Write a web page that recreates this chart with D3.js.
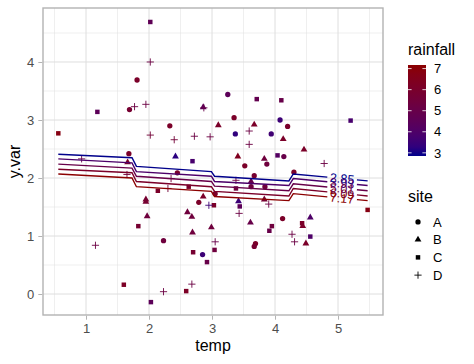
<!DOCTYPE html>
<html>
<head>
<meta charset="utf-8">
<script src="https://cdn.jsdelivr.net/npm/d3@7"></script>
<style>
  body { margin: 0; background: #fff; }
  text { font-family: "Liberation Sans", Arial, sans-serif; }
</style>
</head>
<body>
<script>
var temp = [2.02, 2.02, 1.81, 1.18, 1.69, 1.77, 1.95, 2.86, 2.87, 0.56,
            2.33, 2.02, 2.40, 2.72, 2.97, 3.10, 1.68, 2.42, 0.93, 3.25,
            3.71, 4.10, 3.35, 3.67, 4.08, 4.20, 5.20, 3.37, 3.59, 3.59,
            3.94, 4.13, 4.46, 3.41, 4.04, 4.14, 2.69, 1.66, 2.45, 1.65,
            2.35, 2.30, 2.63, 2.14, 2.86, 2.79, 3.03, 3.05, 2.95, 1.95,
            1.95, 1.97, 2.61, 2.68, 2.69, 2.99, 1.83, 2.23, 1.15, 3.05,
            2.70, 3.04, 2.85, 2.92, 1.60, 2.68, 2.23, 2.59, 2.03, 3.83,
            3.87, 3.52, 4.78, 3.67, 3.38, 3.62, 3.62, 3.84, 3.38, 4.30,
            3.83, 3.42, 3.44, 3.90, 3.43, 4.12, 4.56, 4.43, 4.44, 3.61,
            3.95, 3.91, 4.27, 4.56, 4.31, 4.49, 3.69, 3.67, 5.47];
var yvar = [4.69, 4.00, 3.69, 3.14, 3.18, 3.23, 3.27, 3.22, 3.21, 2.77,
            2.90, 2.74, 2.66, 2.72, 2.71, 2.91, 2.42, 2.37, 2.33, 3.44,
            3.36, 3.34, 3.04, 2.92, 3.00, 2.89, 2.99, 2.76, 2.81, 2.58,
            2.76, 2.67, 2.49, 2.37, 2.39, 2.37, 2.29, 2.27, 2.09, 2.06,
            1.99, 1.82, 1.85, 1.78, 1.68, 1.58, 1.53, 1.73, 1.53, 1.63,
            1.59, 1.34, 1.41, 1.33, 1.06, 1.15, 1.17, 0.92, 0.84, 0.90,
            0.72, 0.76, 0.68, 0.55, 0.16, 0.17, 0.04, 0.05, -0.14, 2.33,
            2.24, 2.21, 2.25, 2.04, 1.96, 1.94, 1.85, 1.85, 1.82, 2.10,
            1.63, 1.60, 1.51, 1.55, 1.39, 1.30, 1.32, 1.22, 1.17, 1.23,
            1.17, 1.09, 1.03, 0.99, 0.90, 0.87, 0.87, 0.82, 1.45];
var site = ["C", "D", "A", "C", "A", "D", "D", "B", "D", "C",
            "A", "D", "D", "D", "D", "B", "A", "B", "D", "A",
            "C", "C", "A", "B", "A", "A", "C", "A", "D", "D",
            "A", "B", "B", "B", "C", "A", "C", "B", "A", "D",
            "D", "D", "C", "C", "B", "A", "C", "A", "D", "B",
            "B", "B", "B", "B", "B", "B", "C", "A", "D", "D",
            "C", "C", "A", "C", "C", "D", "D", "C", "C", "B",
            "A", "A", "D", "A", "D", "B", "A", "A", "C", "A",
            "B", "B", "C", "D", "D", "A", "B", "C", "B", "B",
            "C", "C", "D", "C", "D", "B", "A", "A", "C"];
var rain = [4.6, 5.2, 6.1, 4.5, 5.8, 5.2, 5.2, 4.5, 5.0, 6.8,
            6.1, 5.6, 5.6, 5.2, 5.2, 6.1, 6.1, 3.2, 5.0, 4.5,
            4.8, 5.0, 6.1, 6.1, 3.5, 6.0, 3.8, 3.3, 5.2, 5.2,
            3.6, 6.1, 6.1, 6.4, 4.2, 5.0, 3.8, 6.1, 6.0, 5.6,
            5.6, 5.6, 6.0, 6.1, 6.1, 6.1, 6.1, 6.1, 3.5, 5.8,
            5.8, 5.4, 5.4, 5.4, 5.4, 5.4, 5.8, 5.4, 5.2, 5.0,
            5.8, 5.4, 3.5, 5.0, 6.2, 5.2, 5.2, 6.2, 4.5, 5.4,
            5.4, 6.1, 5.2, 5.8, 5.2, 5.0, 5.4, 5.4, 5.4, 6.1,
            5.8, 3.5, 4.5, 5.2, 5.2, 6.1, 4.0, 6.1, 6.1, 5.0,
            5.4, 5.0, 5.2, 4.0, 5.2, 6.1, 6.1, 5.8, 6.8];

// fitted lines, one per rainfall level
var lineLevels = [2.85, 3.93, 5.01, 6.09, 7.17];
var lineTemp = [0.56, 1.73, 1.80, 2.99, 3.04, 4.22, 4.29, 5.47];
var lineY = [
  [2.41, 2.35, 2.20, 2.11, 2.03, 1.95, 2.07, 1.95],
  [2.33, 2.26, 2.11, 2.03, 1.94, 1.87, 1.99, 1.87],
  [2.24, 2.17, 2.03, 1.94, 1.86, 1.78, 1.90, 1.78],
  [2.15, 2.09, 1.94, 1.85, 1.77, 1.69, 1.82, 1.69],
  [2.07, 2.00, 1.85, 1.77, 1.68, 1.61, 1.73, 1.61]
];
var labelTemp = [4.83, 5.30]; // gap in the line where the label sits

var xTicks = [1, 2, 3, 4, 5];
var yTicks = [0, 1, 2, 3, 4];
var rainTicks = [3, 4, 5, 6, 7];
var sites = ["A", "B", "C", "D"];

var W = 474, H = 364;
var panel = { l: 43, r: 383, t: 8, b: 315 };

var svg = d3.select("body").append("svg")
  .attr("width", W).attr("height", H);

var x = d3.scaleLinear().domain([0.317, 5.714]).range([panel.l, panel.r]);
var y = d3.scaleLinear().domain([-0.362, 4.931]).range([panel.b, panel.t]);
var col = d3.scaleLinear().domain([2.85, 7.17])
  .range(["#00008B", "#8B0000"]).interpolate(d3.interpolateLab);

// grid
var xMinor = [0.5, 1.5, 2.5, 3.5, 4.5, 5.5];
var yMinor = [0.5, 1.5, 2.5, 3.5, 4.5];
var g = svg.append("g");
g.selectAll(".vminor").data(xMinor).enter().append("line")
  .attr("x1", x).attr("x2", x).attr("y1", panel.t).attr("y2", panel.b)
  .attr("stroke", "#dedede").attr("stroke-width", 0.5);
g.selectAll(".hminor").data(yMinor).enter().append("line")
  .attr("y1", y).attr("y2", y).attr("x1", panel.l).attr("x2", panel.r)
  .attr("stroke", "#dedede").attr("stroke-width", 0.5);
g.selectAll(".vmajor").data(xTicks).enter().append("line")
  .attr("x1", x).attr("x2", x).attr("y1", panel.t).attr("y2", panel.b)
  .attr("stroke", "#dedede").attr("stroke-width", 1);
g.selectAll(".hmajor").data(yTicks).enter().append("line")
  .attr("y1", y).attr("y2", y).attr("x1", panel.l).attr("x2", panel.r)
  .attr("stroke", "#dedede").attr("stroke-width", 1);

// points
var sym = {
  A: d3.symbol().type(d3.symbolCircle).size(22)(),
  B: d3.symbol().type(d3.symbolTriangle).size(20)(),
  C: d3.symbol().type(d3.symbolSquare).size(20)(),
  D: "M-3.6,0H3.6M0,-3.6V3.6"
};
var drawShape = function (sel, s, c) {
  sel.append("path").attr("d", sym[s])
    .attr("fill", s === "D" ? "none" : c)
    .attr("stroke", s === "D" ? c : "none")
    .attr("stroke-width", 0.9);
};

var pts = temp.map(function (t, i) {
  return { t: t, v: yvar[i], s: site[i], r: rain[i] };
});
svg.append("g").selectAll("g").data(pts).enter().append("g")
  .attr("transform", function (d) { return "translate(" + x(d.t) + "," + y(d.v) + ")"; })
  .each(function (d) { drawShape(d3.select(this), d.s, col(d.r)); });

// fitted lines with inline labels
var lineGen = d3.line().x(function (d) { return x(d[0]); }).y(function (d) { return y(d[1]); });
var interp = function (ys, t) {
  for (var i = 1; i < lineTemp.length; i++) {
    if (t <= lineTemp[i]) {
      var f = (t - lineTemp[i - 1]) / (lineTemp[i] - lineTemp[i - 1]);
      return ys[i - 1] + f * (ys[i] - ys[i - 1]);
    }
  }
  return ys[ys.length - 1];
};
lineLevels.forEach(function (lev, k) {
  var ys = lineY[k];
  var left = [], right = [];
  lineTemp.forEach(function (t, i) {
    if (t < labelTemp[0]) left.push([t, ys[i]]);
    if (t > labelTemp[1]) right.push([t, ys[i]]);
  });
  left.push([labelTemp[0], interp(ys, labelTemp[0])]);
  right.unshift([labelTemp[1], interp(ys, labelTemp[1])]);
  [left, right].forEach(function (seg) {
    svg.append("path").attr("d", lineGen(seg))
      .attr("fill", "none").attr("stroke", col(lev)).attr("stroke-width", 1.4);
  });
  var tm = (labelTemp[0] + labelTemp[1]) / 2;
  var a0 = [x(labelTemp[0]), y(interp(ys, labelTemp[0]))];
  var a1 = [x(labelTemp[1]), y(interp(ys, labelTemp[1]))];
  var ang = Math.atan2(a1[1] - a0[1], a1[0] - a0[0]) * 180 / Math.PI;
  svg.append("text")
    .attr("transform", "translate(" + x(tm) + "," + y(interp(ys, tm)) + ") rotate(" + ang + ")")
    .attr("text-anchor", "middle").attr("dy", "0.36em")
    .attr("font-size", 12.5).attr("fill", col(lev))
    .text(lev.toFixed(2));
});

// panel border
svg.append("rect")
  .attr("x", panel.l).attr("y", panel.t)
  .attr("width", panel.r - panel.l).attr("height", panel.b - panel.t)
  .attr("fill", "none").attr("stroke", "#b3b3b3").attr("stroke-width", 1.4);

// axes
var xAxis = svg.append("g").attr("transform", "translate(0," + (panel.b + 0.7) + ")")
  .call(d3.axisBottom(x).tickValues(xTicks).tickSize(4).tickPadding(4).tickFormat(d3.format("d")));
var yAxis = svg.append("g").attr("transform", "translate(" + (panel.l - 0.7) + ",0)")
  .call(d3.axisLeft(y).tickValues(yTicks).tickSize(4).tickPadding(4).tickFormat(d3.format("d")));
[xAxis, yAxis].forEach(function (a) {
  a.select(".domain").remove();
  a.selectAll(".tick line").attr("stroke", "#b3b3b3");
  a.selectAll(".tick text").attr("fill", "#4d4d4d").attr("font-size", 13)
    .style("font-family", "'Liberation Sans', Arial, sans-serif");
});

svg.append("text").attr("x", (panel.l + panel.r) / 2).attr("y", 351)
  .attr("text-anchor", "middle").attr("font-size", 16).text("temp");
svg.append("text")
  .attr("transform", "translate(20," + (panel.t + panel.b) / 2 + ") rotate(-90)")
  .attr("text-anchor", "middle").attr("font-size", 16).text("y.var");

// colour bar legend
var lg = svg.append("g");
lg.append("text").attr("x", 408).attr("y", 55).attr("font-size", 16).text("rainfall");
var cb = d3.scaleLinear().domain([2.85, 7.17]).range([156, 65]);
var defs = svg.append("defs");
var grad = defs.append("linearGradient").attr("id", "rainGrad")
  .attr("x1", 0).attr("y1", 1).attr("x2", 0).attr("y2", 0);
d3.range(0, 1.0001, 0.1).forEach(function (f) {
  grad.append("stop").attr("offset", f)
    .attr("stop-color", col(2.85 + f * (7.17 - 2.85)));
});
var barX = 408, barW = 18;
lg.append("rect").attr("x", barX).attr("y", cb(7.17))
  .attr("width", barW).attr("height", cb(2.85) - cb(7.17))
  .attr("fill", "url(#rainGrad)");
lg.selectAll(".tl").data(rainTicks).enter().append("line")
  .attr("x1", barX).attr("x2", barX + barW * 0.2)
  .attr("y1", cb).attr("y2", cb).attr("stroke", "#fff").attr("stroke-width", 0.8);
lg.selectAll(".tr").data(rainTicks).enter().append("line")
  .attr("x1", barX + barW * 0.8).attr("x2", barX + barW)
  .attr("y1", cb).attr("y2", cb).attr("stroke", "#fff").attr("stroke-width", 0.8);
lg.selectAll(".tlab").data(rainTicks).enter().append("text")
  .attr("x", 434).attr("y", cb).attr("dy", "0.36em")
  .attr("font-size", 13).text(function (d) { return d; });

// site legend
var sl = svg.append("g");
sl.append("text").attr("x", 408).attr("y", 202).attr("font-size", 16).text("site");
var key = d3.scaleBand().domain(sites).range([213, 284]);
sites.forEach(function (s) {
  var gy = key(s) + key.bandwidth() / 2;
  var kg = sl.append("g").attr("transform", "translate(418," + gy + ")");
  drawShape(kg, s, "#000");
  sl.append("text").attr("x", 433).attr("y", gy).attr("dy", "0.36em")
    .attr("font-size", 13).text(s);
});
</script>
</body>
</html>
